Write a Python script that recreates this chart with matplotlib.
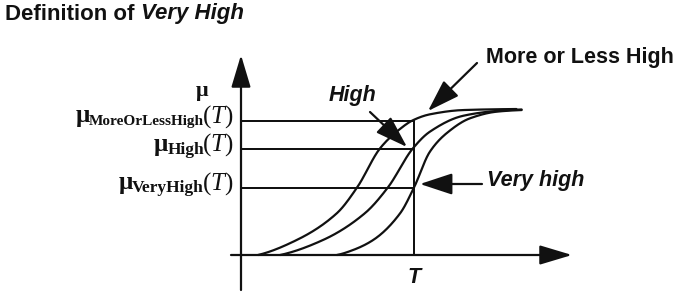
import numpy as np
import matplotlib
matplotlib.use("Agg")
import matplotlib.pyplot as plt

# ---- data (x in arbitrary units with T = 5, y = membership) ----
T_value = 5.0
x_more_or_less = [0.49, 1.61, 2.77, 3.36, 4.02, 4.50, 4.98, 5.46, 6.42, 7.96]
y_more_or_less = [0.00, 0.102, 0.284, 0.461, 0.726, 0.839, 0.918, 0.957, 0.986, 0.993]

x_high = [1.13, 2.37, 3.58, 4.25, 4.97, 5.46, 6.42, 7.39, 8.11]
y_high = [0.00, 0.102, 0.284, 0.461, 0.726, 0.839, 0.947, 0.980, 0.990]

x_very_high = [2.77, 3.24, 3.82, 4.60, 5.00, 5.46, 5.95, 6.62, 7.39, 8.11]
y_very_high = [0.00, 0.034, 0.102, 0.284, 0.459, 0.703, 0.830, 0.930, 0.975, 0.986]

mu_at_T = [0.914, 0.721, 0.458]
level_subscripts = ["MoreOrLessHigh", "High", "VeryHigh"]
title_plain = "Definition of "
title_italic = "Very High"

# ---- layout helpers (pixel -> data) ----
PX_X0, PX_SX = 241.0, 34.6
PX_Y0, PX_SY = 255.0, 147.0
def X(px):
    return (px - PX_X0) / PX_SX
def Y(py):
    return (PX_Y0 - py) / PX_SY

def pchip(x, y, n=200):
    x = np.asarray(x, float); y = np.asarray(y, float)
    h = np.diff(x); d = np.diff(y) / h
    m = np.zeros_like(y)
    for k in range(1, len(x) - 1):
        if d[k - 1] * d[k] > 0:
            w1 = 2 * h[k] + h[k - 1]; w2 = h[k] + 2 * h[k - 1]
            m[k] = (w1 + w2) / (w1 / d[k - 1] + w2 / d[k])
    m[0] = d[0] * 0.6
    m[-1] = d[-1] * 0.5
    xs = np.linspace(x[0], x[-1], n)
    idx = np.clip(np.searchsorted(x, xs) - 1, 0, len(h) - 1)
    t = (xs - x[idx]) / h[idx]
    h00 = 2 * t**3 - 3 * t**2 + 1; h10 = t**3 - 2 * t**2 + t
    h01 = -2 * t**3 + 3 * t**2; h11 = t**3 - t**2
    ys = h00 * y[idx] + h10 * h[idx] * m[idx] + h01 * y[idx + 1] + h11 * h[idx] * m[idx + 1]
    return xs, ys

plt.rcParams["mathtext.fontset"] = "custom"
plt.rcParams["mathtext.rm"] = "Liberation Serif"
plt.rcParams["mathtext.it"] = "Liberation Serif:italic"
plt.rcParams["mathtext.bf"] = "Liberation Serif:bold"

fig = plt.figure(figsize=(6.85, 3.03), dpi=100)
ax = fig.add_axes([0, 0, 1, 1])
ax.set_xlim(X(0), X(685))
ax.set_ylim(Y(303), Y(0))
ax.axis("off")

LW = 1.6
C = "#111111"
SANS = "Liberation Sans"
SERIF = "Liberation Serif"

# axes with arrows
ax.annotate("", xy=(0, Y(55)), xytext=(0, Y(290)),
            arrowprops=dict(arrowstyle="-|>,head_length=1.0,head_width=0.3",
                            mutation_scale=20, lw=LW, color=C, shrinkA=0, shrinkB=0))
ax.annotate("", xy=(X(572), 0), xytext=(X(231), 0),
            arrowprops=dict(arrowstyle="-|>,head_length=1.0,head_width=0.3",
                            mutation_scale=20, lw=LW, color=C, shrinkA=0, shrinkB=0))

# curves
for xs_, ys_ in [(x_more_or_less, y_more_or_less), (x_high, y_high), (x_very_high, y_very_high)]:
    cx, cy = pchip(xs_, ys_)
    ax.plot(cx, cy, color=C, lw=LW, solid_capstyle="round")

# guide lines
for v in mu_at_T:
    ax.plot([0, T_value], [v, v], color=C, lw=LW * 0.9)
ax.plot([T_value, T_value], [0, mu_at_T[0]], color=C, lw=LW * 0.9)

renderer = fig.canvas.get_renderer()
inv = ax.transData.inverted()

def left_edge(txt):
    bb = txt.get_window_extent(renderer=renderer)
    return inv.transform((bb.x0, bb.y0))[0]

# level labels: mu (bold) + bold subscript + (T), right-aligned against the y axis
sub_sizes = [11.0, 12.5, 12.5]
for sub, v, ss in zip(level_subscripts, mu_at_T, sub_sizes):
    base = v - 1.5 / PX_SY
    t_par = ax.text(X(233), base, r"$(T)$", ha="right", va="baseline", fontsize=18, color=C)
    xl = left_edge(t_par) + 2.5 / PX_SX
    t_sub = ax.text(xl, base - 3.0 / PX_SY, sub, ha="right", va="baseline", fontsize=ss,
                    family=SERIF, weight="bold", color=C)
    xl = left_edge(t_sub) + 0.5 / PX_SX
    ax.text(xl, base, "μ", ha="right", va="baseline", fontsize=18,
            family=SERIF, weight="bold", color=C)

ax.text(X(202.5), Y(91), "μ", ha="center", va="center", fontsize=16,
        family=SERIF, weight="bold", color=C)
ax.text(T_value, Y(283), "T", ha="center", va="baseline", fontsize=15.5, color=C,
        family=SANS, weight="bold", style="italic")

# title: plain part then italic part placed right after it
t1 = ax.text(X(5), Y(19.5), title_plain, ha="left", va="baseline", fontsize=16,
             family=SANS, weight="bold", color=C)
bb = t1.get_window_extent(renderer=renderer)
x_end = inv.transform((bb.x1, bb.y0))[0]
ax.text(x_end, Y(19.5), title_italic, ha="left", va="baseline", fontsize=16,
        family=SANS, weight="bold", style="italic", color=C)

# annotations
arrow_kw = dict(arrowstyle="-|>,head_length=1.0,head_width=0.33", mutation_scale=20,
                lw=LW, color=C, shrinkA=0, shrinkB=0)
ax.annotate("", xy=(X(428), Y(111)), xytext=(X(477), Y(63)), arrowprops=arrow_kw)
ax.annotate("", xy=(X(407), Y(147)), xytext=(X(370), Y(112)), arrowprops=arrow_kw)
ax.annotate("", xy=(X(420), Y(184)), xytext=(X(482), Y(184)), arrowprops=arrow_kw)

ax.text(X(486.5), Y(63), "More or Less High", ha="left", va="baseline", fontsize=15.5,
        family=SANS, weight="bold", color=C)
ax.text(X(329), Y(101), "High", ha="left", va="baseline", fontsize=15.5,
        family=SANS, weight="bold", style="italic", color=C)
ax.text(X(487), Y(186), "Very high", ha="left", va="baseline", fontsize=15.5,
        family=SANS, weight="bold", style="italic", color=C)

fig.savefig("out.png", dpi=100, facecolor="white")
